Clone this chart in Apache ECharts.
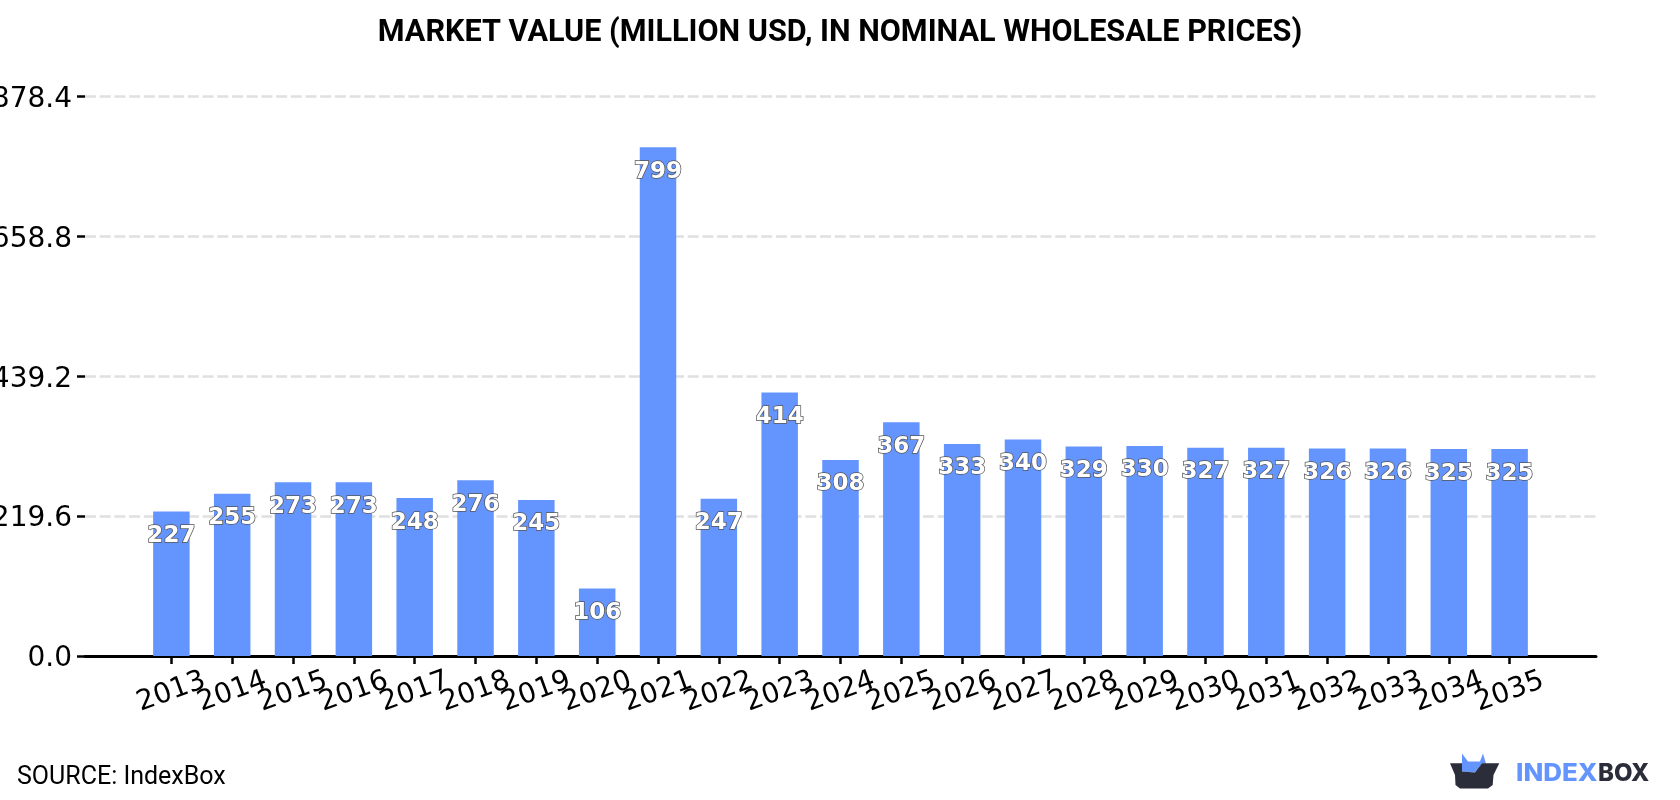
<!DOCTYPE html>
<html>
<head>
<meta charset="utf-8">
<style>html,body{margin:0;padding:0;background:#fff}#chart{width:1680px;height:800px}</style>
<script src="https://cdn.jsdelivr.net/npm/echarts@6/dist/echarts.min.js"></script>
</head>
<body>
<div id="chart"></div>
<script>
const years = [2013,2014,2015,2016,2017,2018,2019,2020,2021,2022,2023,2024,2025,2026,2027,2028,2029,2030,2031,2032,2033,2034,2035];
const marketValue = [227,255,273,273,248,276,245,106,799,247,414,308,367,333,340,329,330,327,327,326,326,325,325];
const yTicks = [0,219.6,439.2,658.8,878.4];

const BAR = '#6495ff', INK = '#2b2d3a';
const X_MIN = 2011.58, X_MAX = 2036.42;
// Blank labels at both ends keep the crowded first and last years from being dropped.
const yearLabelValues = [years[0] - 1, ...years, years[years.length - 1] + 1];

const chart = echarts.init(document.getElementById('chart'), null, {renderer:'canvas'});
chart.setOption({
  animation:false,
  backgroundColor:'#fff',
  title:{text:'MARKET VALUE (MILLION USD, IN NOMINAL WHOLESALE PRICES)',left:835,top:13,textAlign:'center',
    textStyle:{fontFamily:'Roboto',fontWeight:'bold',fontSize:30.6,color:'#000'}},
  grid:{left:85,right:84,top:96.7,bottom:144,containLabel:false,outerBoundsMode:'none'},
  xAxis:[
    {type:'value',min:X_MIN,max:X_MAX,splitLine:{show:false},
     axisLine:{show:true,onZero:false,lineStyle:{color:'#000',width:3}},
     axisTick:{show:false},axisLabel:{show:false}},
    {type:'value',position:'bottom',min:X_MIN,max:X_MAX,splitLine:{show:false},
     axisLine:{show:false,onZero:false},
     axisTick:{show:true,customValues:years,length:8,lineStyle:{color:'#000',width:2.5}},
     axisLabel:{customValues:yearLabelValues,rotate:20,align:'center',verticalAlign:'middle',margin:36,hideOverlap:false,
       fontFamily:'DejaVu Sans',fontSize:28,color:'#000',
       formatter:v=>years.includes(v)?String(v):''}}
  ],
  yAxis:{type:'value',min:yTicks[0],max:yTicks[yTicks.length-1],
    axisLine:{show:false},
    axisTick:{show:true,customValues:yTicks,length:8,lineStyle:{color:'#000',width:2.5}},
    axisLabel:{customValues:yTicks,margin:13,verticalAlign:'top',lineHeight:6,fontFamily:'DejaVu Sans',fontSize:28,color:'#000',formatter:v=>v.toFixed(1)},
    splitLine:{show:true,lineStyle:{color:'#e0e0e0',width:2.5,type:[11,3.7]}}},
  series:[{type:'bar',xAxisIndex:0,barWidth:36.5,itemStyle:{color:BAR},
    data:years.map((y,i)=>[y,marketValue[i]]),
    label:{show:true,position:'insideTop',distance:13,formatter:p=>String(p.value[1]),
      fontFamily:'DejaVu Sans',fontWeight:'bold',fontSize:23,color:'#fff',textBorderColor:'#555',textBorderWidth:1.5}}],
  graphic:[
    {type:'text',left:17,top:765,style:{text:'SOURCE: IndexBox',font:'25px Roboto',fill:'#000'}},
    {type:'polygon',shape:{points:[[1462,753.5],[1468,761.5],[1480,761.5],[1483,753.5],[1486,763.5],[1482,763.5],[1475,772.5],[1462,771.5]]},style:{fill:BAR}},
    {type:'polygon',shape:{points:[[1450,763.3],[1462,763.3],[1462,771.5],[1475,772.5],[1482,763.3],[1499.3,763.3],[1493.5,775],[1492.7,785],[1488,788.5],[1460,788.5],[1455.5,785],[1455,775]]},style:{fill:INK}},
    {type:'text',x:1516,y:762,scaleX:1.08,style:{text:'INDEX',font:'800 24px Inter',fill:BAR}},
    {type:'text',x:1598,y:762,style:{text:'BOX',font:'800 24px Inter',fill:INK}}
  ]
});
</script>
</body>
</html>
